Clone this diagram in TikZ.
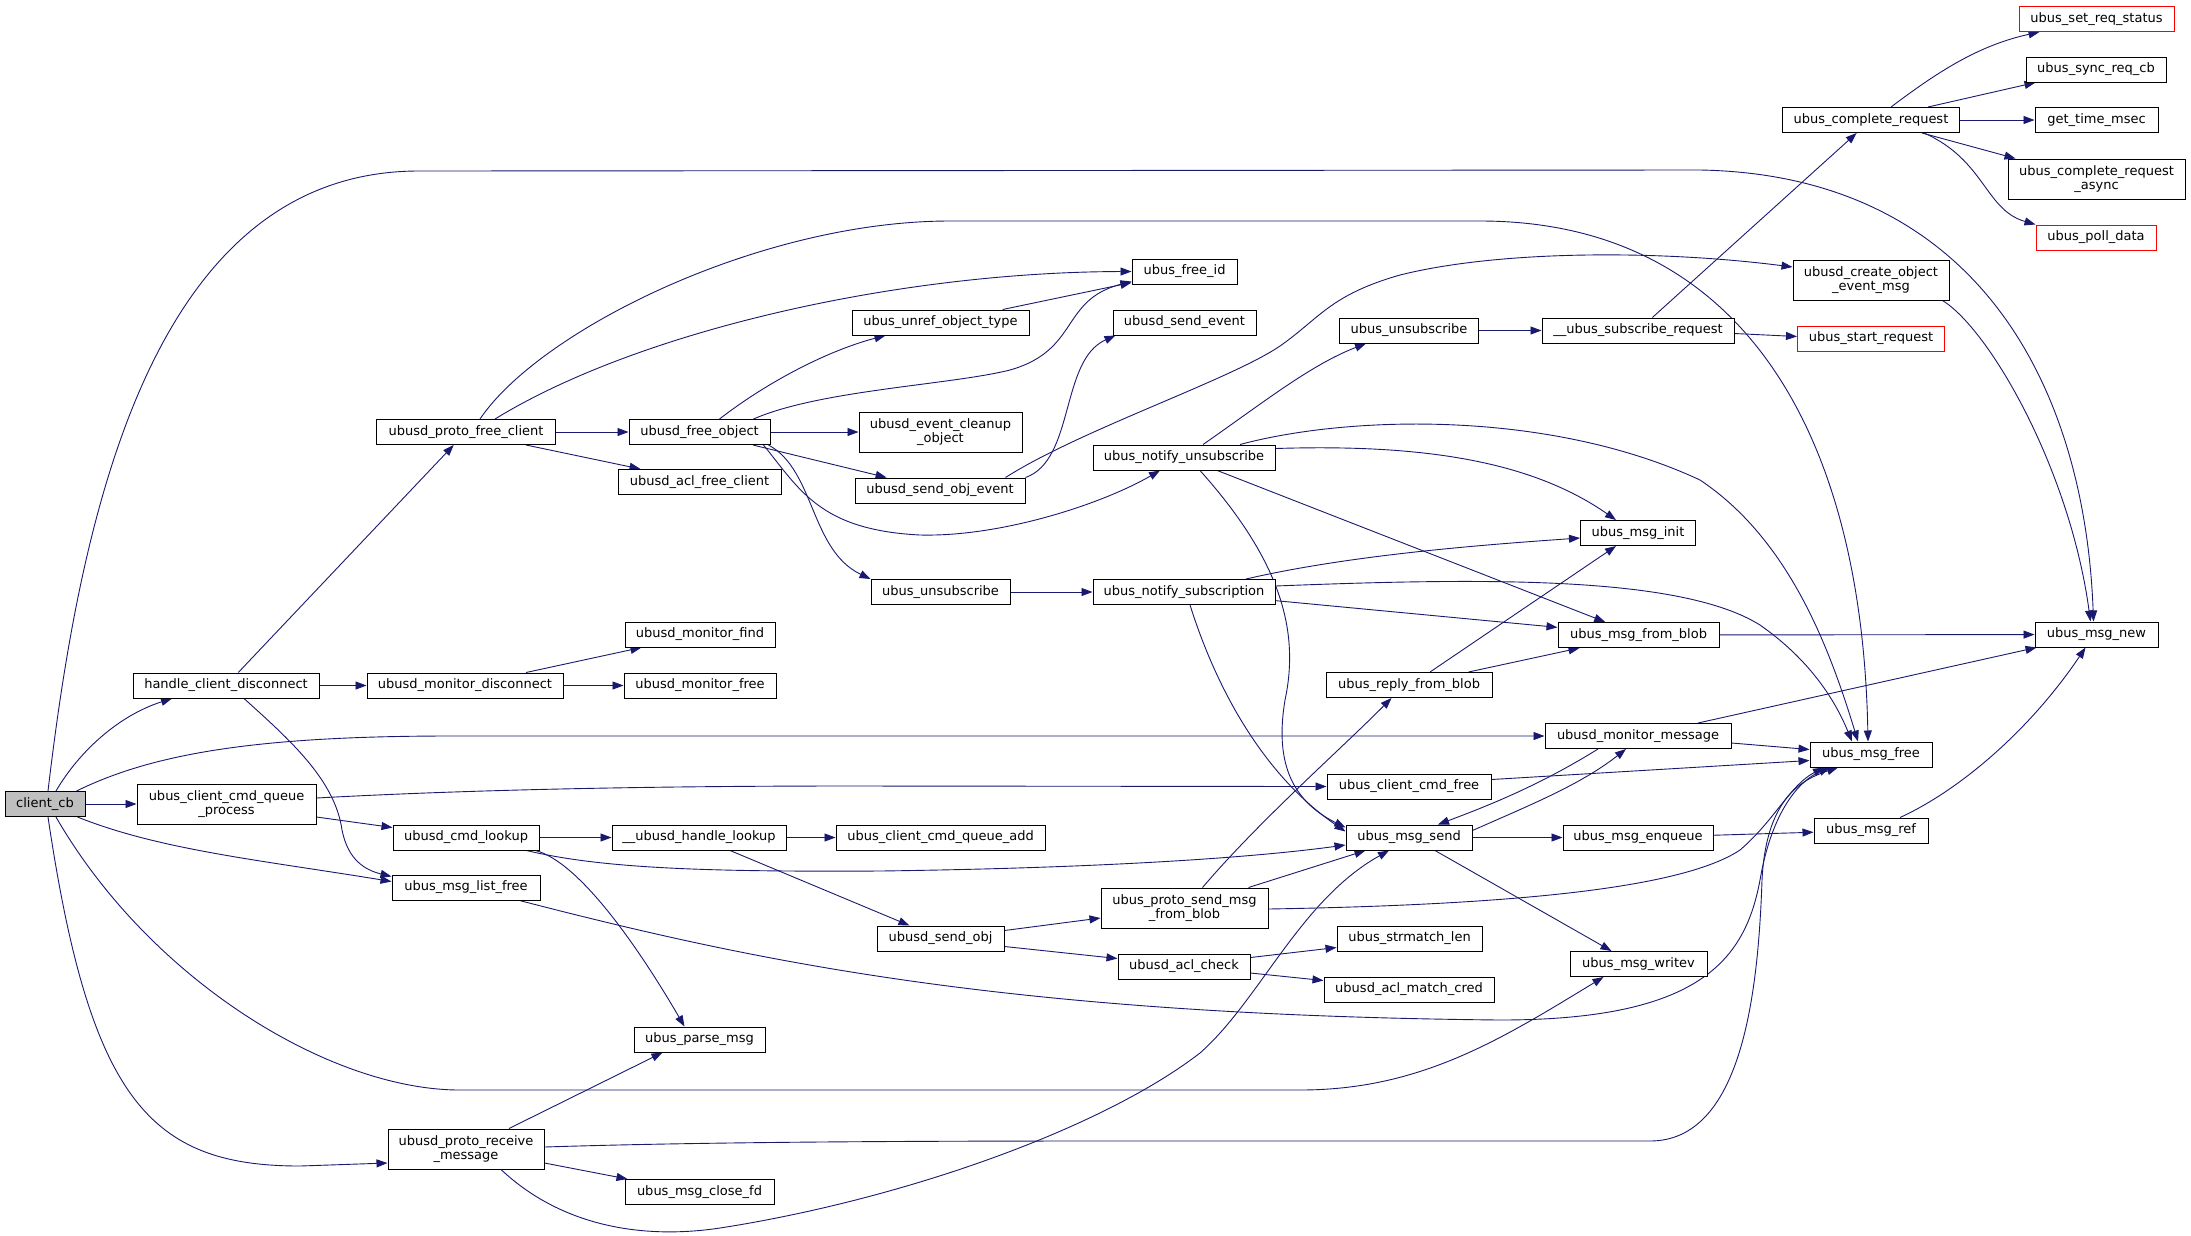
\documentclass[tikz,border=0pt]{standalone}
\usepackage{fontspec}
\setmainfont{DejaVu Sans}
\usetikzlibrary{arrows.meta,calc}
\definecolor{edgecol}{HTML}{191970}
\definecolor{cbgray}{HTML}{BFBFBF}
\pgfdeclarelayer{bg}
\pgfsetlayers{bg,main}
\begin{document}
\begin{tikzpicture}[x=1pt,y=-1pt,
  box/.style={draw=black, line width=1pt, fill=white, inner sep=0pt, minimum height=25pt, align=center, font=\fontsize{13}{14.5}\selectfont},
  redbox/.style={box, draw=red},
  tall/.style={minimum height=40pt},
  edge/.style={draw=edgecol, line width=0.9pt, -{Triangle[length=11pt,width=8pt]}}]
\useasboundingbox (0,0) rectangle (2191,1235);
% nodes
\node[box,fill=cbgray,minimum width=80pt] (cb) at (45,804) {client\_cb};
\node[box,minimum width=186pt] (hcd) at (226,685.5) {handle\_client\_disconnect};
\node[box,minimum width=196pt] (mdis) at (465,685.5) {ubusd\_monitor\_disconnect};
\node[box,minimum width=150pt] (mfind) at (700,634.5) {ubusd\_monitor\_find};
\node[box,minimum width=152pt] (mfree) at (700,685.5) {ubusd\_monitor\_free};
\node[box,tall,minimum width=179pt] (cqp) at (226.5,804) {ubus\_client\_cmd\_queue\\\_process};
\node[box,minimum width=146pt] (cl) at (466,837.5) {ubusd\_cmd\_lookup};
\node[box,minimum width=174pt] (hl) at (699,837.5) {\_\_ubusd\_handle\_lookup};
\node[box,minimum width=209pt] (cqa) at (940.5,837.5) {ubus\_client\_cmd\_queue\_add};
\node[box,minimum width=148pt] (mlf) at (466,887.5) {ubus\_msg\_list\_free};
\node[box,minimum width=131pt] (pm) at (699.5,1039.5) {ubus\_parse\_msg};
\node[box,tall,minimum width=156pt] (prm) at (466,1149) {ubusd\_proto\_receive\\\_message};
\node[box,minimum width=149pt] (mcf) at (699.5,1192) {ubus\_msg\_close\_fd};
\node[box,minimum width=179pt] (pfc) at (466,432) {ubusd\_proto\_free\_client};
\node[box,minimum width=141pt] (fo) at (699.5,432) {ubusd\_free\_object};
\node[box,minimum width=163pt] (afc) at (699.5,482) {ubusd\_acl\_free\_client};
\node[box,minimum width=177pt] (uot) at (940.5,322.5) {ubus\_unref\_object\_type};
\node[box,tall,minimum width=163pt] (eco) at (940.5,432) {ubusd\_event\_cleanup\\\_object};
\node[box,minimum width=170pt] (soe) at (940,490.5) {ubusd\_send\_obj\_event};
\node[box,minimum width=139pt] (unsb) at (940.5,592) {ubus\_unsubscribe};
\node[box,minimum width=105pt] (fid) at (1184.5,271.5) {ubus\_free\_id};
\node[box,minimum width=143pt] (sev) at (1184.5,322.5) {ubusd\_send\_event};
\node[box,minimum width=182pt] (nu) at (1184,457.5) {ubus\_notify\_unsubscribe};
\node[box,minimum width=182pt] (nsub) at (1184,592) {ubus\_notify\_subscription};
\node[box,minimum width=139pt] (unsa) at (1409,330.5) {ubus\_unsubscribe};
\node[box,minimum width=192pt] (subr) at (1638,330.5) {\_\_ubus\_subscribe\_request};
\node[box,minimum width=115pt] (minit) at (1638,533) {ubus\_msg\_init};
\node[box,minimum width=161pt] (mfb) at (1638.5,635) {ubus\_msg\_from\_blob};
\node[box,minimum width=166pt] (rfb) at (1409,685) {ubus\_reply\_from\_blob};
\node[box,minimum width=186pt] (mmsg) at (1638,736) {ubusd\_monitor\_message};
\node[box,minimum width=164pt] (ccf) at (1409,786.5) {ubus\_client\_cmd\_free};
\node[box,minimum width=126pt] (msend) at (1409,837.5) {ubus\_msg\_send};
\node[box,minimum width=150pt] (menq) at (1638,837.5) {ubus\_msg\_enqueue};
\node[box,tall,minimum width=167pt] (psm) at (1184.5,908) {ubus\_proto\_send\_msg\\\_from\_blob};
\node[box,minimum width=145pt] (sml) at (1409.5,938.5) {ubus\_strmatch\_len};
\node[box,minimum width=132pt] (acl) at (1184,966.5) {ubusd\_acl\_check};
\node[box,minimum width=170pt] (amc) at (1409,989.5) {ubusd\_acl\_match\_cred};
\node[box,minimum width=137pt] (mwv) at (1638.5,964) {ubus\_msg\_writev};
\node[box,minimum width=127pt] (so) at (940.5,938.5) {ubusd\_send\_obj};
\node[box,minimum width=122pt] (mfr) at (1871,754.5) {ubus\_msg\_free};
\node[box,minimum width=114pt] (mref) at (1871,830.5) {ubus\_msg\_ref};
\node[box,minimum width=123pt] (mnew) at (2096.5,634.5) {ubus\_msg\_new};
\node[box,minimum width=177pt] (creq) at (1871,120) {ubus\_complete\_request};
\node[box,tall,minimum width=156pt] (coe) at (1871,280) {ubusd\_create\_object\\\_event\_msg};
\node[redbox,minimum width=147pt] (sreq) at (1871,338.5) {ubus\_start\_request};
\node[redbox,minimum width=155pt] (srs) at (2096.5,19) {ubus\_set\_req\_status};
\node[box,minimum width=140pt] (src) at (2096,69.5) {ubus\_sync\_req\_cb};
\node[box,minimum width=123pt] (gtm) at (2096.5,120) {get\_time\_msec};
\node[box,tall,minimum width=177pt] (cra) at (2096.5,179) {ubus\_complete\_request\\\_async};
\node[redbox,minimum width=120pt] (pd) at (2096,237.5) {ubus\_poll\_data};
% edges
\begin{pgfonlayer}{bg}
\fill[white] (0,0) rectangle (2191,1235);
% client_cb
\draw[edge] ($(cb.north)+(3,0)$) .. controls (80,520) and (150,171) .. (419,171) -- (1700,170) .. controls (1980,175) and (2085,390) .. ($(mnew.north)+(-3,0)$);
\draw[edge] ($(cb.north)+(11,0)$) .. controls (80,750) and (120,715) .. ($(hcd.south)+(-54,0)$);
\draw[edge] ($(cb.north east)+(-9,0)$) .. controls (150,755) and (250,736) .. (450,736) -- (mmsg.west);
\draw[edge] (cb) -- (cqp);
\draw[edge] ($(cb.south east)+(-8,0)$) .. controls (160,850) and (260,860) .. ($(mlf.west)+(0,-6)$);
\draw[edge] ($(cb.south)+(11,0)$) .. controls (150,980) and (330,1090) .. (460,1090) -- (1300,1090) .. controls (1420,1090) and (1500,1040) .. ($(mwv.south)+(-35,0)$);
\draw[edge] ($(cb.south)+(3,0)$) .. controls (90,1100) and (150,1166) .. (300,1166) -- ($(prm.west)+(0,14)$);
% handle_client_disconnect
\draw[edge] (hcd) -- (pfc);
\draw[edge] (hcd) -- (mdis);
\draw[edge] ($(hcd.south)+(18,0)$) .. controls (290,740) and (335,780) .. (342,830) .. controls (348,860) and (365,870) .. ($(mlf.west)+(0,-11)$);
\draw[edge] ($(mdis.north)+(61,0)$) -- ($(mfind.south west)+(17,0)$);
\draw[edge] (mdis) -- (mfree);
% queue process
\draw[edge] ($(cqp.east)+(0,-6)$) .. controls (500,788) and (700,786) .. (850,786) -- (ccf.west);
\draw[edge] ($(cqp.east)+(0,13)$) -- ($(cl.west)+(0,-10)$);
% cmd lookup
\draw[edge] (cl) -- (hl);
\draw[edge] ($(cl.south east)+(-13,0)$) .. controls (600,868) and (700,872) .. (880,871) .. controls (1100,868) and (1250,858) .. ($(msend.west)+(0,7.5)$);
\draw[edge] ($(cl.south east)+(-4,0)$) .. controls (580,862) and (640,950) .. ($(pm.north)+(-15,0)$);
\draw[edge] (hl) -- (cqa);
\draw[edge] (hl) -- (so);
\draw[edge] ($(so.east)+(0,-8)$) -- ($(psm.west)+(0,10)$);
\draw[edge] ($(so.east)+(0,8)$) -- ($(acl.west)+(0,-8)$);
% msg list free
\draw[edge] ($(mlf.south east)+(-21,0)$) .. controls (750,960) and (1000,1015) .. (1500,1020) .. controls (1700,1020) and (1745,960) .. (1760,880) .. controls (1772,810) and (1800,780) .. ($(mfr.south)+(-41,0)$);
% proto receive
\draw[edge] ($(prm.north)+(43,0)$) -- ($(pm.south)+(-37,0)$);
\draw[edge] ($(prm.east)+(0,14)$) -- ($(mcf.north west)+(3,0)$);
\draw[edge] ($(prm.east)+(0,-2)$) .. controls (700,1142) and (900,1141) .. (1100,1141) -- (1650,1141) .. controls (1740,1141) and (1758,1000) .. (1762,880) .. controls (1766,800) and (1800,780) .. ($(mfr.south)+(-33,0)$);
\draw[edge] ($(prm.south)+(35,0)$) .. controls (560,1225) and (640,1240) .. (720,1228) .. controls (900,1200) and (1100,1130) .. (1200,1053) .. controls (1260,1000) and (1300,900) .. ($(msend.south)+(-20,0)$);
% proto free client
\draw[edge] (pfc) -- (fo);
\draw[edge] ($(pfc.south)+(60,0)$) -- ($(afc.north west)+(23,0)$);
\draw[edge] ($(pfc.north)+(29,0)$) .. controls (640,330) and (900,272) .. (fid.west);
\draw[edge] ($(pfc.north)+(14,0)$) .. controls (540,330) and (760,221) .. (950,221) -- (1480,221) .. controls (1740,221) and (1862,430) .. ($(mfr.north)+(-3,0)$);
% free object
\draw[edge] ($(fo.north)+(20,0)$) .. controls (770,380) and (830,350) .. ($(uot.south west)+(34,0)$);
\draw[edge] ($(fo.north east)+(-17,0)$) .. controls (820,390) and (950,385) .. (1010,370) .. controls (1080,350) and (1060,300) .. ($(fid.west)+(0,10)$);
\draw[edge] (fo) -- (eco);
\draw[edge] (fo) -- (soe);
\draw[edge] ($(fo.south east)+(-7,0)$) .. controls (800,490) and (820,530) .. (920,535) .. controls (1000,537) and (1100,505) .. ($(nu.south)+(-24,0)$);
\draw[edge] ($(fo.south east)+(-2,0)$) .. controls (815,470) and (810,550) .. (unsb.north west);
\draw[edge] (uot) -- (fid);
% send obj event
\draw[edge] (soe.north east) .. controls (1075,460) and (1060,360) .. ($(sev.south west)+(3,0)$);
\draw[edge] ($(soe.north east)+(-20,0)$) .. controls (1080,430) and (1230,380) .. (1280,346) .. controls (1320,318) and (1330,295) .. (1400,275) .. controls (1500,250) and (1660,250) .. ($(coe.west)+(0,-13)$);
% notify unsubscribe
\draw[edge] ($(nu.north)+(19,0)$) .. controls (1260,405) and (1310,365) .. ($(unsa.south west)+(27,0)$);
\draw[edge] ($(nu.north)+(56,0)$) .. controls (1350,415) and (1550,410) .. (1700,480) .. controls (1790,540) and (1830,650) .. ($(mfr.north)+(-13,0)$);
\draw[edge] ($(nu.east)+(0,-9)$) .. controls (1420,444) and (1530,460) .. ($(minit.north)+(-22,0)$);
\draw[edge] (nu) -- (mfb);
\draw[edge] ($(nu.south)+(16,0)$) .. controls (1280,560) and (1300,630) .. (1285,700) .. controls (1275,760) and (1290,800) .. ($(msend.north west)+(0,3)$);
% notify subscription
\draw[edge] ($(nsub.north)+(62,0)$) .. controls (1350,555) and (1480,545) .. ($(minit.west)+(0,5)$);
\draw[edge] ($(nsub.east)+(0,-6)$) .. controls (1480,578) and (1680,575) .. (1760,625) .. controls (1810,660) and (1835,700) .. ($(mfr.north)+(-19,0)$);
\draw[edge] (nsub) -- (mfb);
\draw[edge] ($(nsub.south)+(6,0)$) .. controls (1220,700) and (1270,780) .. ($(msend.north west)+(0,7)$);
\draw[edge] (unsb) -- (nsub);
\draw[edge] (unsa) -- (subr);
% subscribe request
\draw[edge] (subr) -- (creq);
\draw[edge] ($(subr.east)+(0,3)$) -- ($(sreq.west)+(0,-2)$);
% complete request
\draw[edge] ($(creq.north)+(20,0)$) .. controls (1940,70) and (1980,45) .. ($(srs.south west)+(21,0)$);
\draw[edge] ($(creq.north)+(57,0)$) -- ($(src.south west)+(10,0)$);
\draw[edge] (creq) -- (gtm);
\draw[edge] ($(creq.south)+(51,0)$) -- ($(cra.north west)+(8,0)$);
\draw[edge] ($(creq.south)+(53,0)$) .. controls (1985,160) and (1985,210) .. (pd.north west);
% msg new
\draw[edge] ($(coe.south east)+(-7,0)$) .. controls (1990,330) and (2070,470) .. ($(mnew.north)+(-6,0)$);
\draw[edge] (mfb) -- (mnew);
\draw[edge] ($(mmsg.north)+(60,0)$) -- ($(mnew.south west)+(2,0)$);
\draw[edge] ($(mref.north)+(29,0)$) .. controls (1960,790) and (2030,730) .. ($(mnew.south)+(-11,0)$);
% msg free / send
\draw[edge] ($(mmsg.east)+(0,7)$) -- ($(mfr.west)+(0,-5)$);
\draw[edge] ($(ccf.east)+(0,-7)$) -- ($(mfr.west)+(0,6)$);
\draw[edge] ($(msend.east)+(0,-7)$) .. controls (1530,805) and (1580,785) .. ($(mmsg.south)+(-12,0)$);
\draw[edge] ($(mmsg.south)+(-40,0)$) .. controls (1540,785) and (1490,805) .. ($(msend.north)+(29,0)$);
\draw[edge] (msend) -- (menq);
\draw[edge] ($(msend.south)+(26,0)$) -- ($(mwv.north)+(-27,0)$);
\draw[edge] (menq) -- (mref);
% reply from blob
\draw[edge] ($(rfb.north)+(21,0)$) -- ($(minit.south)+(-22,0)$);
\draw[edge] ($(rfb.north east)+(-24,0)$) -- ($(mfb.south west)+(22,0)$);
% proto send msg from blob
\draw[edge] ($(psm.north)+(18,0)$) .. controls (1260,820) and (1340,750) .. ($(rfb.south west)+(66,0)$);
\draw[edge] ($(psm.north)+(64,0)$) -- ($(msend.south west)+(20,0)$);
\draw[edge] ($(psm.east)+(0,1)$) .. controls (1500,905) and (1680,890) .. (1740,850) .. controls (1775,820) and (1790,785) .. ($(mfr.south)+(-47,0)$);
% acl check
\draw[edge] ($(acl.east)+(0,-9)$) -- ($(sml.west)+(0,9)$);
\draw[edge] ($(acl.east)+(0,6.5)$) -- ($(amc.west)+(0,-9)$);
\end{pgfonlayer}
\end{tikzpicture}
\end{document}
